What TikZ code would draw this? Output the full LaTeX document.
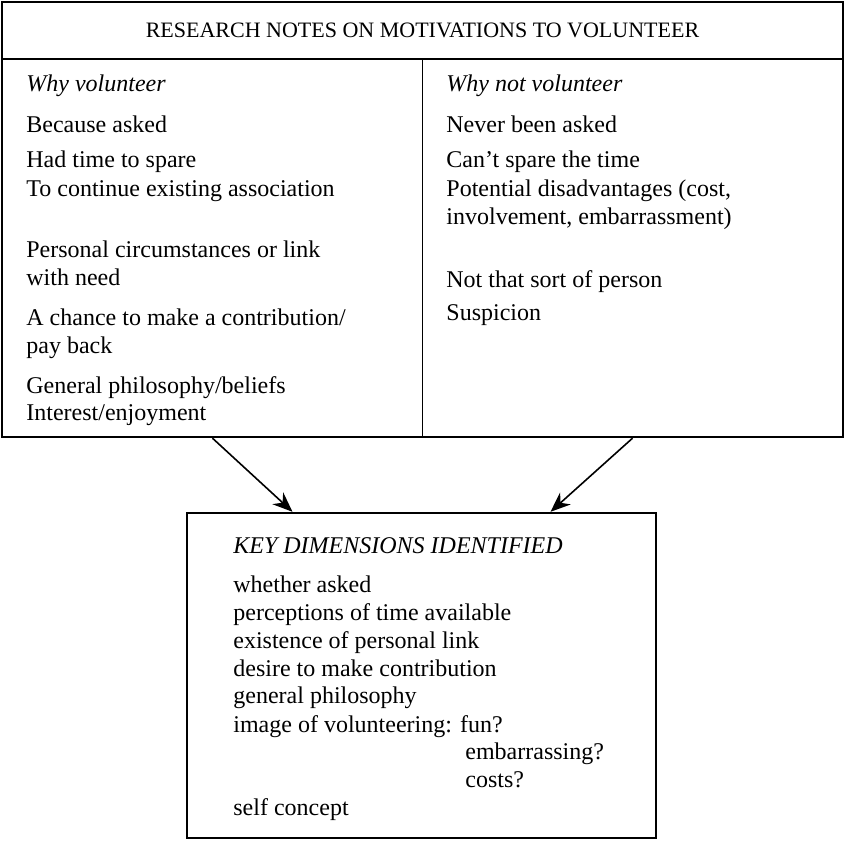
\documentclass[tikz,border=0pt]{standalone}
\usepackage{fontspec}
\setmainfont{Liberation Serif}
\usetikzlibrary{arrows.meta}

\begin{document}
\begin{tikzpicture}[
    x=0.5pt, y=-0.5pt,
    font=\fontsize{12}{14}\selectfont,
    box/.style={
      draw,
      line width=1.2pt,
      inner sep=0pt
    },
    txt/.style={anchor=base west, inner sep=0pt},
    arrow/.style={-{Stealth[length=10pt,width=8pt]}, line width=0.8pt}
  ]
    \useasboundingbox (0,0) rectangle (845,842);

    % research notes
    \node[box, minimum width=420.5pt, minimum height=217.5pt] (notes)
      at (422.5,219.5) {};
    \node[box, minimum width=420.5pt, minimum height=28.5pt, anchor=north,
      font=\fontsize{11}{13}\selectfont] (title) at (notes.north)
      {RESEARCH NOTES ON MOTIVATIONS TO VOLUNTEER};
    \draw[line width=0.8pt] (title.south) -- (title.south |- notes.south);

    \node[txt] (why) at (26,91) {\textit{Why volunteer}};
    \node[txt] (asked) at (26,132) {Because asked};
    \node[txt] (spare) at (26,167) {Had time to spare};
    \node[txt] (assoc) at (26,196) {To continue existing association};
    \node[txt] (circ) at (26,257) {Personal circumstances or link};
    \node[txt] (need) at (26,285) {with need};
    \node[txt] (chance) at (26,325) {A chance to make a contribution/};
    \node[txt] (payback) at (26,353) {pay back};
    \node[txt] (beliefs) at (26,393) {General philosophy/beliefs};
    \node[txt] (enjoy) at (26,420) {Interest/enjoyment};

    \node[txt] (whynot) at (446,91) {\textit{Why not volunteer}};
    \node[txt] (never) at (446,132) {Never been asked};
    \node[txt] (notime) at (446,167) {Can't spare the time};
    \node[txt] (disadv) at (446,196) {Potential disadvantages (cost,};
    \node[txt] (involve) at (446,224) {involvement, embarrassment)};
    \node[txt] (sort) at (446,287) {Not that sort of person};
    \node[txt] (suspicion) at (446,320) {Suspicion};

    % key dimensions
    \node[box, minimum width=234.5pt, minimum height=162.5pt] (key)
      at (421.5,675.5) {};
    \node[txt] (keyhead) at (233,553) {\textit{KEY DIMENSIONS IDENTIFIED}};
    \node[txt] (whether) at (233,592) {whether asked};
    \node[txt] (perc) at (233,620) {perceptions of time available};
    \node[txt] (link) at (233,648) {existence of personal link};
    \node[txt] (desire) at (233,676) {desire to make contribution};
    \node[txt] (philo) at (233,703) {general philosophy};
    \node[txt] (image) at (233,732) {image of volunteering: fun?};
    \node[txt] (embar) at (465,759) {embarrassing?};
    \node[txt] (costs) at (465,787) {costs?};
    \node[txt] (self) at (233,815) {self concept};

    \draw[arrow] ([xshift=-105pt]notes.south) -- ([xshift=-64.5pt]key.north);
    \draw[arrow] ([xshift=105pt]notes.south) -- ([xshift=64.5pt]key.north);
  \end{tikzpicture}
\end{document}
